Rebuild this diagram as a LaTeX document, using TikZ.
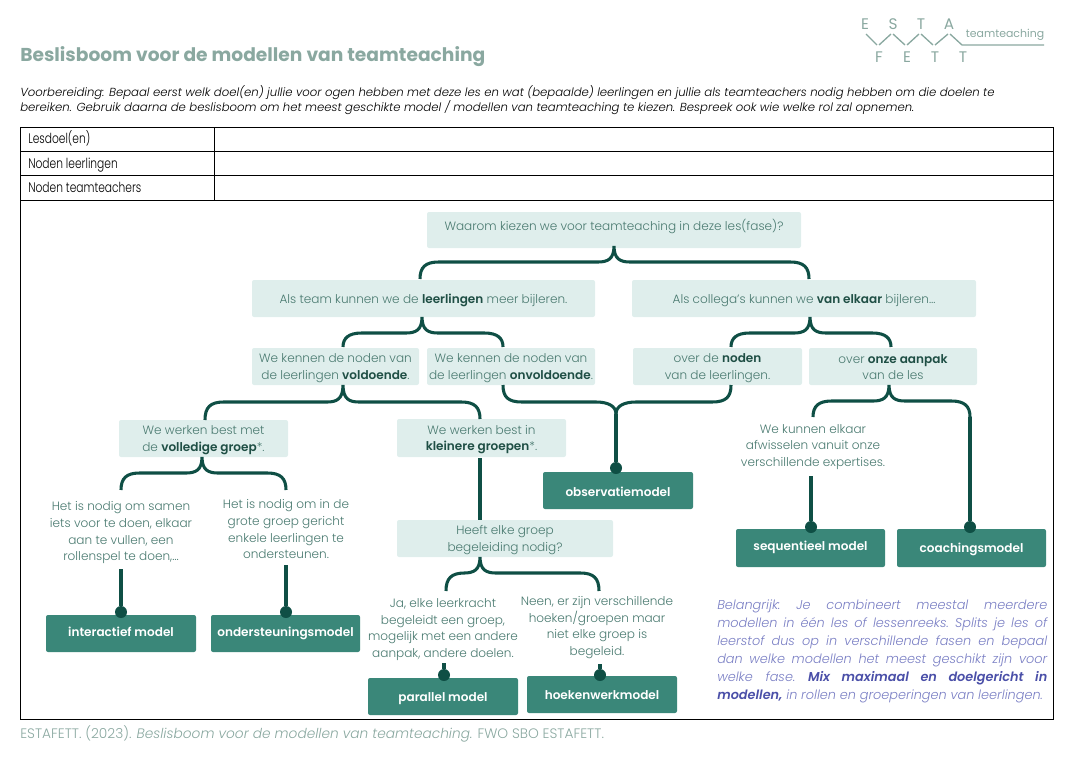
\documentclass[tikz,border=0pt]{standalone}
\usepackage{fontspec}
\usetikzlibrary{calc}
\setmainfont{Poppins}[UprightFont=* Light,BoldFont=* SemiBold,ItalicFont=* Light Italic,BoldItalicFont=* SemiBold Italic]
\newfontfamily\logof{Poppins}
\newfontfamily\titlef{Poppins Bold}
\newfontfamily\labf{Poppins Light}[FakeStretch=0.77]
\definecolor{lightbox}{HTML}{DFEEEC}
\definecolor{darkbox}{HTML}{3A8779}
\definecolor{conn}{HTML}{0F4F45}
\definecolor{txt}{HTML}{4A7A70}
\definecolor{txtb}{HTML}{1F4F45}
\definecolor{grey}{HTML}{8AA8A0}
\definecolor{violet}{HTML}{7A7FC4}
\definecolor{violetb}{HTML}{4A4FA8}
\newcommand{\bb}[1]{\textcolor{txtb}{\textbf{#1}}}
\newcommand{\bv}[1]{\textcolor{violetb}{\textbf{#1}}}
\newcommand{\fs}{\fontsize{9.05}{12.5}\selectfont}
\newcommand{\two}[2]{\rule{0pt}{9.3pt}#1\\#2\rule[-2pt]{0pt}{2pt}}
\newcommand{\off}[2]{\rule[\dimexpr-8pt+#1\relax]{0pt}{\dimexpr16pt\relax}\rule{0pt}{\dimexpr8pt+#1\relax}#2}
\newcommand{\brc}[4]{%
 \draw[connector] let \p1=(#1),\p2=(#2),\p3=(#3),\n1={\y1-#4*0.75pt} in
  (\x2,\y2) .. controls (\x2,{\n1-4pt}) and ({\x2+4pt},\n1) .. ({\x2+14pt},\n1) -- ({\x1-12pt},\n1)
  .. controls ({\x1-5pt},\n1) and (\x1,{\n1+2pt}) .. (\x1,\y1)
  .. controls (\x1,{\n1+2pt}) and ({\x1+5pt},\n1) .. ({\x1+12pt},\n1) -- ({\x3-14pt},\n1)
  .. controls ({\x3-4pt},\n1) and (\x3,{\n1-4pt}) .. (\x3,\y3);}
\tikzset{x=0.75pt,y=-0.75pt,
 connector/.style={draw=conn,line width=2.3pt},
 frame/.style={draw=black,line width=0.75pt},
 lbox/.style 2 args={fill=lightbox,rounded corners=1.5pt,inner sep=0pt,align=center,text=txt,font=\fs,minimum width={#1*0.75pt},minimum height={#2*0.75pt}},
 dbox/.style 2 args={fill=darkbox,rounded corners=1.5pt,inner sep=0pt,align=center,text=white,font=\fs\bfseries,minimum width={#1*0.75pt},minimum height={#2*0.75pt}},
 plain/.style={inner sep=0pt,align=center,text=txt,font=\fs},
 dot/.style={circle,fill=conn,inner sep=0pt,minimum size=9pt},
 logo/.style={draw=grey,line width=1pt},
 logotxt/.style={inner sep=0pt,text=grey,font=\fontsize{11.5}{12}\selectfont\logof},
 lab/.style={inner sep=0pt,anchor=base west,text=black,font=\fontsize{10.4}{12}\selectfont\labf},
 intro/.style={inner sep=0pt,anchor=base west,text=black,font=\fontsize{8.76}{12}\selectfont\itshape},
 imp/.style={inner sep=0pt,anchor=base west,text=violet,font=\fontsize{9.65}{12}\selectfont\itshape\frenchspacing},
}
\begin{document}
\begin{tikzpicture}
\useasboundingbox (0,0) rectangle (1077,757);
% heading
\node[inner sep=0pt,anchor=base west,text=grey,font=\fontsize{14}{16}\selectfont\titlef] (title) at (20,61) {Beslisboom voor de modellen van teamteaching};
\node[intro] (i1) at (20,96) {Voorbereiding: Bepaal eerst welk doel(en) jullie voor ogen hebben met deze les en wat (bepaalde) leerlingen en jullie als teamteachers nodig hebben om die doelen te};
\node[intro] (i2) at (20,111) {bereiken. Gebruik daarna de beslisboom om het meest geschikte model / modellen van teamteaching te kiezen. Bespreek ook wie welke rol zal opnemen.};
% logo
\foreach \n/\t/\x/\y in {l1/E/865/24,l2/S/893/24,l3/T/921/24,l4/A/949/24,l5/F/879/57,l6/E/907/57,l7/T/935/57,l8/T/963/57}
  \node[logotxt] (\n) at (\x,\y) {\t};
\node[logotxt,font=\fontsize{8.2}{10}\selectfont\logof] (lt) at (1005,35) {teamteaching};
\draw[logo] (866,34) -- (877,45) (879,45) -- (891,34) (893,34) -- (905,45) (907,45) -- (919,34) (921,34) -- (933,45) (935,45) -- (948,34) (950,34) -- (962,45) -- (1044,45);
% table
\draw[frame] (20,127) rectangle (1053,719);
\draw[frame] (20,151) -- (1053,151) (20,175) -- (1053,175) (20,200) -- (1053,200) (214,127) -- (214,200);
\node[lab] (t1) at (28,143) {Lesdoel(en)};
\node[lab] (t2) at (28,168) {Noden leerlingen};
\node[lab] (t3) at (28,192) {Noden teamteachers};
% light boxes
\node[lbox={374}{36}] (q) at (614,230) {\off{0pt}{Waarom kiezen we voor teamteaching in deze les(fase)?}};
\node[lbox={343}{37}] (a1) at (423.5,298.5) {\off{3.7pt}{Als team kunnen we de \bb{leerlingen} meer bijleren.}};
\node[lbox={344}{37}] (a2) at (804,298.5) {\off{3.7pt}{Als collega’s kunnen we \bb{van elkaar} bijleren…}};
\node[lbox={167}{37}] (b1) at (335.5,366.5) {\two{We kennen de noden van}{de leerlingen \bb{voldoende}.}};
\node[lbox={168}{37}] (b2) at (511,366.5) {\two{We kennen de noden van}{de leerlingen \bb{onvoldoende}.}};
\node[lbox={169}{37}] (c1) at (717.5,366.5) {\two{over de \bb{noden}}{van de leerlingen.}};
\node[lbox={168}{37}] (c2) at (893,366.5) {\two{over \bb{onze aanpak}}{van de les}};
\node[lbox={169}{37}] (d1) at (203.5,438.5) {\two{We werken best met}{de \bb{volledige groep}*.}};
\node[lbox={169}{38}] (d2) at (481.5,438) {\two{We werken best in}{\bb{kleinere groepen}*.}};
\node[lbox={216}{37}] (h) at (505,538.5) {\two{Heeft elke groep}{begeleiding nodig?}};
% dark boxes
\node[dbox={150}{37}] (obs) at (618,490.5) {\off{4.4pt}{observatiemodel}};
\node[dbox={150}{37}] (par) at (443,696.5) {\off{3.7pt}{parallel model}};
\node[dbox={150}{37}] (hoek) at (602,694.5) {\off{3.9pt}{hoekenwerkmodel}};
\node[dbox={149}{38}] (seq) at (810.5,548) {\off{1.6pt}{sequentieel model}};
\node[dbox={149}{38}] (coach) at (971.5,548) {\off{3.1pt}{coachingsmodel}};
\node[dbox={150}{37}] (inter) at (121,633.5) {\off{2.1pt}{interactief model}};
\node[dbox={149}{37}] (onder) at (285.5,633.5) {\off{2.1pt}{ondersteuningsmodel}};
% plain texts
\node[plain] (p1) at (121,533) {Het is nodig om samen\\iets voor te doen, elkaar\\aan te vullen, een\\rollenspel te doen,…};
\node[plain] (p2) at (286,529.5) {Het is nodig om in de\\grote groep gericht\\enkele leerlingen te\\ondersteunen.};
\node[plain] (p3) at (443,629.5) {Ja, elke leerkracht\\begeleidt een groep,\\mogelijk met een andere\\aanpak, andere doelen.};
\node[plain] (p4) at (597,627.5) {Neen, er zijn verschillende\\hoeken/groepen maar\\niet elke groep is\\begeleid.};
\node[plain] (p5) at (813,447) {We kunnen elkaar\\afwisselen vanuit onze\\verschillende expertises.};
% dots
\node[dot] (do) at (616,468) {};
\node[dot] (di) at (121,612) {};
\node[dot] (don) at (286,612) {};
\node[dot] (dp) at (444,675) {};
\node[dot] (dh) at (600,675) {};
\node[dot] (ds) at (811,527) {};
\node[dot] (dc) at (970,527) {};
% anchor coordinates of the connectors
\coordinate (qt) at (614,246); \coordinate (qL) at (420,279); \coordinate (qR) at (809,279);
\coordinate (a1t) at (422,317); \coordinate (a1L) at (343,347); \coordinate (a1R) at (503,347);
\coordinate (a2t) at (810,317); \coordinate (a2L) at (731,347); \coordinate (a2R) at (891,347);
\coordinate (b1t) at (343,385); \coordinate (b1L) at (205,420); \coordinate (b1R) at (480,419);
\coordinate (d1t) at (202,457); \coordinate (d1L) at (121,490); \coordinate (d1R) at (286,490);
\coordinate (ht) at (480,557); \coordinate (hL) at (446,591); \coordinate (hR) at (599,591);
\coordinate (c2t) at (889,385); \coordinate (c2L) at (813,417); \coordinate (c2R) at (970,417);
\coordinate (jn) at (616,414); \coordinate (b2b) at (503,385); \coordinate (c1b) at (731,385);
\coordinate (d2b) at (480,458); \coordinate (hb) at (480,520);
\coordinate (p1b) at (121,569); \coordinate (p2b) at (286,565); \coordinate (p3b) at (444,663);
\coordinate (p4b) at (600,664); \coordinate (p5b) at (811,476);
% connectors
\brc{qt}{qL}{qR}{16}
\brc{a1t}{a1L}{a1R}{16}
\brc{a2t}{a2L}{a2R}{16}
\brc{b1t}{b1L}{b1R}{17}
\brc{d1t}{d1L}{d1R}{16}
\brc{ht}{hL}{hR}{16}
\brc{c2t}{c2L}{c2R}{16}
\draw[connector] (b2b) .. controls (503,397) and (508,402) .. (522,402) -- (596,402) .. controls (608,402) and (616,406) .. (jn);
\draw[connector] (c1b) .. controls (731,397) and (726,402) .. (712,402) -- (636,402) .. controls (624,402) and (616,406) .. (jn);
\draw[connector] (jn) -- (do);
\draw[connector] (d2b) -- (hb);
\draw[connector] (p1b) -- (di);
\draw[connector] (p2b) -- (don);
\draw[connector] (p3b) -- (dp);
\draw[connector] (p4b) -- (dh);
\draw[connector] (p5b) -- (ds);
\draw[connector] (c2R) -- (dc);
% note
\node[imp] (n1) at (717,609) {\makebox[247.5pt][s]{Belangrijk: Je combineert meestal meerdere}};
\node[imp] (n2) at (717,627) {\makebox[247.5pt][s]{modellen in één les of lessenreeks. Splits je les of}};
\node[imp] (n3) at (717,645) {\makebox[247.5pt][s]{leerstof dus op in verschillende fasen en bepaal}};
\node[imp] (n4) at (717,663) {\makebox[247.5pt][s]{dan welke modellen het meest geschikt zijn voor}};
\node[imp] (n5) at (717,681) {\makebox[247.5pt][s]{welke fase. \bv{Mix maximaal en doelgericht in}}};
\node[imp] (n6) at (717,699) {\bv{modellen,} in rollen en groeperingen van leerlingen.};
% source
\node[inner sep=0pt,anchor=base west,text=grey,font=\fontsize{10.3}{12}\selectfont] (src) at (20,738) {ESTAFETT. (2023). \textit{Beslisboom voor de modellen van teamteaching.} FWO SBO ESTAFETT.};
\end{tikzpicture}
\end{document}
